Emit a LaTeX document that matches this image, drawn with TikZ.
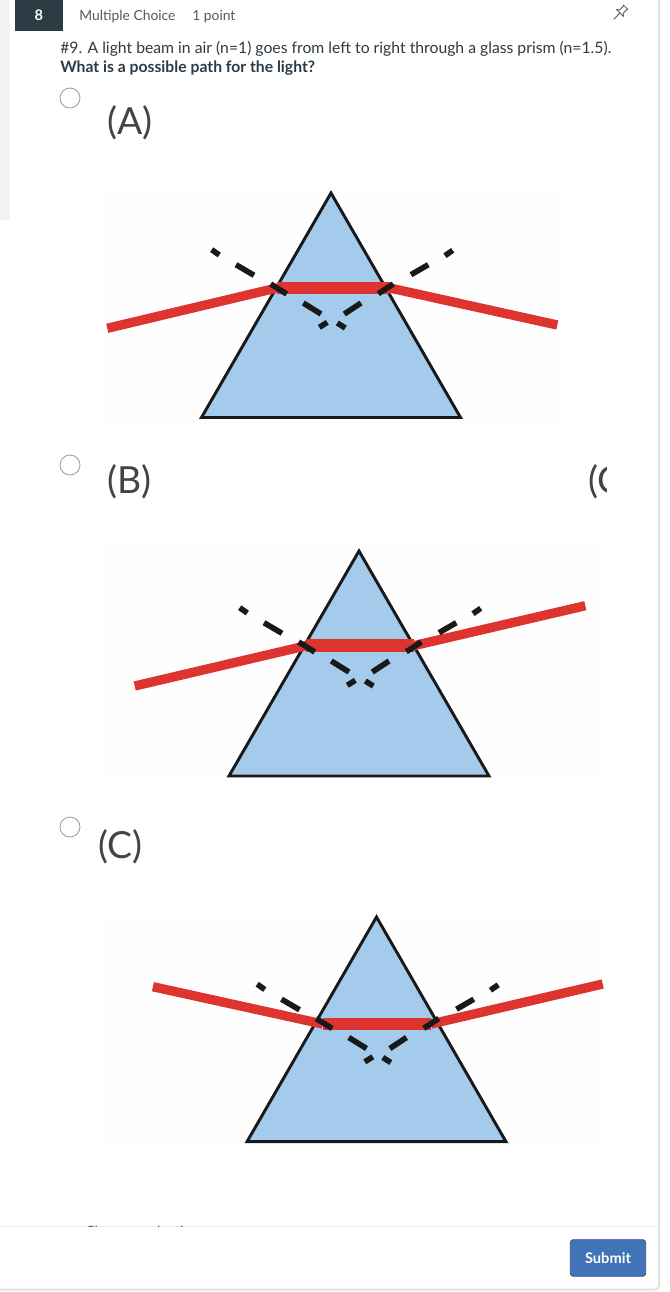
\documentclass[tikz,border=0pt]{standalone}
\usepackage{fontspec}
\setmainfont{Lato}
\definecolor{prismblue}{HTML}{A5CBEC}
\definecolor{beamred}{HTML}{DE3430}
\definecolor{inkdark}{HTML}{2D3B45}
\definecolor{inkmid}{HTML}{4F5B63}
\definecolor{labelgrey}{HTML}{404548}
\definecolor{sidegrey}{HTML}{F2F4F4}
\definecolor{edgegrey}{HTML}{E2E2E2}
\definecolor{btnblue}{HTML}{4174B7}
\definecolor{linkblue}{HTML}{2D6CA8}
\definecolor{imgwhite}{HTML}{FEFEFE}
\tikzset{
  x=0.75pt,y=-0.75pt,
  prismshape/.style={fill=prismblue,draw=black!90,line width=2.2pt,line join=miter},
  beamline/.style={draw=beamred,line width=7pt,line join=round},
  beamcore/.style={draw=beamred,line width=9.6pt},
  normaldash/.style={draw=black!90,line width=4.2pt},
  radiobtn/.style={circle,draw=gray!80,fill=white,line width=0.6pt,minimum size=15pt,inner sep=0pt},
  optlabel/.style={font=\fontsize{28}{28}\selectfont,text=labelgrey,inner sep=0pt,anchor=base west},
  bodytext/.style={font=\fontsize{11.8}{13}\selectfont,text=inkdark,inner sep=0pt,anchor=base west},
  headtext/.style={font=\fontsize{10.4}{12}\selectfont,text=inkmid,inner sep=0pt,anchor=base west},
}
% #1 apex x, #2 apex y, #3 half base, #4 height, #5 normal offset, #6 beam-left, #7 entry, #8 exit, #9 beam-right
\newcommand{\prismfig}[9]{%
  \begin{scope}[shift={(#1,#2)}]
    \coordinate (ap) at (0,0);
    \coordinate (bl) at (-#3,#4);
    \coordinate (br) at (#3,#4);
    \draw[prismshape] (ap) -- (bl) -- (br) -- cycle;
  \end{scope}
  \coordinate (bs) at #6;
  \coordinate (en) at #7;
  \coordinate (ex) at #8;
  \coordinate (bt) at #9;
  \draw[beamline] (bs) -- (en);
  \draw[beamline] (ex) -- (bt);
  \draw[beamcore] (en) -- (ex);
  \begin{scope}[shift={(#1,#2+#5)}]
    \foreach \xa/\ya/\xb/\yb in {-119.3/56.7/-111.7/62,-95/71.7/-77/82.3,-60.3/91/-44.3/101,-27.7/110/-10/121,6.3/130/14.3/135,
       121.7/57.3/114/62.7,97.3/71.7/80/81.7,62.3/91/47.3/100.7,30/110/13.3/121,-3.7/129.3/-11.7/134.3}{
      \draw[normaldash] (\xa,\ya) -- (\xb,\yb);
    }
  \end{scope}
}
\begin{document}
\begin{tikzpicture}
\useasboundingbox (0,0) rectangle (670,1292);
\fill[white] (0,0) rectangle (670,1292);
% page furniture
\fill[sidegrey] (0,0) rectangle (10,220);
\draw[edgegrey,line width=1.5pt,rounded corners=3pt] (659,0) -- (659,1289.5) -- (0,1289.5);
\draw[edgegrey!60,line width=0.6pt] (0,1226.5) -- (658,1226.5);
\node[fill=inkdark,minimum width=36pt,minimum height=23.25pt,inner sep=0pt,anchor=north west] (badge) at (15,0) {};
\node[font=\fontsize{11}{13}\selectfont\bfseries,text=white,inner sep=0pt] (num) at (39,15.5) {8};
\node[headtext] (mc) at (79,20) {Multiple Choice};
\node[headtext] (pt) at (192,20) {1 point};
% pin icon
\begin{scope}[shift={(620,13)},rotate=-45,line width=0.6pt]
  \draw[inkmid] (-3.5,-8) -- (3.5,-8) (-2.5,-8) -- (-2.5,-2) (2.5,-8) -- (2.5,-2) (-5,0) -- (5,0) (-5,0) -- (-2.5,-2) (5,0) -- (2.5,-2) (0,0) -- (0,9);
\end{scope}
% question
\node[bodytext] (q1) at (60,53) {\#9. A light beam in air (n=1) goes from left to right through a glass prism (n=1.5).};
\node[bodytext,font=\fontsize{11.8}{13}\selectfont\bfseries] (q2) at (60,72) {What is a possible path for the light?};
% option A
\node[radiobtn] (ra) at (70,98) {};
\node[optlabel] (la) at (107,134.5) {(A)};
\fill[imgwhite] (105,187) rectangle (565,425);
\prismfig{331}{193}{129.5}{224.5}{0}{(107.3,328.3)}{(276.7,288)}{(390,288)}{(557.3,325)}
% option B
\node[radiobtn] (rb) at (70,465) {};
\node[optlabel] (lb) at (107,493.5) {(B)};
\begin{scope}
  \clip (580,455) rectangle (606,505);
  \node[optlabel] (lc2) at (588,493.5) {(C};
\end{scope}
\fill[imgwhite] (100,545) rectangle (605,782);
\prismfig{359}{551}{130}{225}{0}{(134.7,686)}{(306.4,645.7)}{(413.6,645.7)}{(585.3,605.7)}
% option C
\node[radiobtn] (rc) at (70,827) {};
\node[optlabel] (lc) at (98,858.5) {(C)};
\fill[imgwhite] (100,914) rectangle (605,1147);
\prismfig{376.5}{917}{129.5}{224.7}{10.5}{(152.9,986.7)}{(322.7,1024)}{(431,1024)}{(602.7,984)}
% footer
\begin{scope}
  \clip (60,1215) rectangle (260,1226);
  \node[bodytext,text=linkblue,font=\fontsize{10.6}{13}\selectfont] (clr) at (85,1236) {Clear my selection};
\end{scope}
\node[fill=btnblue,draw=btnblue!75!black,line width=0.6pt,rounded corners=2.2pt,minimum width=56.5pt,minimum height=27.5pt,inner sep=0pt,text=white,font=\fontsize{11}{13}\selectfont\bfseries] (submit) at (608,1258) {Submit};
\end{tikzpicture}
\end{document}
